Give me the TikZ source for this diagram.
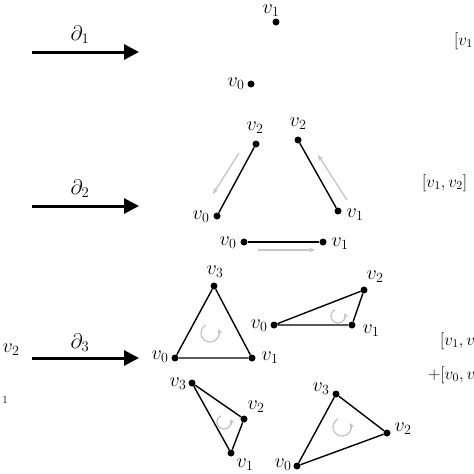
\documentclass[tikz,border=0pt]{standalone}
\usepackage{fix-cm}
\usetikzlibrary{arrows.meta}
\begin{document}
\begin{tikzpicture}[x=1pt,y=-1pt,
  vtx/.style={circle,fill=black,inner sep=0pt,minimum size=7pt},
  lbl/.style={inner sep=0pt,font=\fontsize{20}{24}\selectfont},
  dlbl/.style={inner sep=0pt,font=\fontsize{21}{24}\selectfont},
  rlbl/.style={inner sep=0pt,anchor=west,font=\fontsize{17}{20}\selectfont},
  bigarrow/.style={line width=3pt,-{Triangle[length=15pt,width=15pt]}},
  edge/.style={line width=1.4pt},
  orient/.style={gray!45,line width=1.3pt,-{Stealth[length=6pt,width=5pt]}},
  spin/.style={gray!45,line width=1.3pt,-{Stealth[length=5pt,width=5pt]}}]
\useasboundingbox (0,0) rectangle (474,474);
% boundary arrows
\coordinate (a1s) at (32,52); \coordinate (a1e) at (139,52);
\coordinate (a2s) at (32,206); \coordinate (a2e) at (139,206);
\coordinate (a3s) at (32,358); \coordinate (a3e) at (139,358);
\draw[bigarrow] (a1s) -- (a1e);
\draw[bigarrow] (a2s) -- (a2e);
\draw[bigarrow] (a3s) -- (a3e);
\node[dlbl] (d1) at (80,35) {$\partial_1$};
\node[dlbl] (d2) at (80,189) {$\partial_2$};
\node[dlbl] (d3) at (80,343) {$\partial_3$};
% dimension 1
\node[vtx] (p1) at (276,22) {};
\node[lbl] at (271,11) {$v_1$};
\node[vtx] (p0) at (251,84) {};
\node[lbl] at (236,84) {$v_0$};
% dimension 2: left edge
\node[vtx] (e1a) at (256,144) {};
\node[vtx] (e1b) at (217,216) {};
\draw[edge] (e1a) -- (e1b);
\node[lbl] at (255,128) {$v_2$};
\node[lbl] at (201,217) {$v_0$};
\coordinate (g1s) at (239,153); \coordinate (g1e) at (213,194);
\draw[orient] (g1s) -- (g1e);
% right edge
\node[vtx] (e2a) at (298,140) {};
\node[vtx] (e2b) at (338,211) {};
\draw[edge] (e2a) -- (e2b);
\node[lbl] at (298,124) {$v_2$};
\node[lbl] at (355,215) {$v_1$};
\coordinate (g2s) at (347,200); \coordinate (g2e) at (318,155);
\draw[orient] (g2s) -- (g2e);
% bottom edge
\node[vtx] (e3a) at (244,242) {};
\node[vtx] (e3b) at (323,242) {};
\draw[edge] (e3a) -- (e3b);
\node[lbl] at (228,243) {$v_0$};
\node[lbl] at (340,244) {$v_1$};
\coordinate (g3s) at (258,250); \coordinate (g3e) at (315,250);
\draw[orient] (g3s) -- (g3e);
% dimension 3: triangle A
\node[vtx] (A3) at (214,286) {};
\node[vtx] (A0) at (175,358) {};
\node[vtx] (A1) at (252,358) {};
\draw[edge] (A3) -- (A0) -- (A1) -- (A3);
\node[lbl] at (215,272) {$v_3$};
\node[lbl] at (160,357) {$v_0$};
\node[lbl] at (270,358) {$v_1$};
\coordinate (cA) at (210,333);
\draw[spin] ([shift={(-117:9)}]cA) arc[start angle=-117,end angle=-385,radius=9];
% triangle B
\node[vtx] (B2) at (364,290) {};
\node[vtx] (B0) at (274,325) {};
\node[vtx] (B1) at (352,325) {};
\draw[edge] (B0) -- (B2) -- (B1) -- (B0);
\node[lbl] at (375,277) {$v_2$};
\node[lbl] at (259,326) {$v_0$};
\node[lbl] at (371,331) {$v_1$};
\coordinate (cB) at (338,316);
\draw[spin] ([shift={(-117:7)}]cB) arc[start angle=-117,end angle=-385,radius=7];
% triangle C
\node[vtx] (C3) at (192,383) {};
\node[vtx] (C2) at (244,419) {};
\node[vtx] (C1) at (231,453) {};
\draw[edge] (C3) -- (C2) -- (C1) -- (C3);
\node[lbl] at (178,384) {$v_3$};
\node[lbl] at (256,407) {$v_2$};
\node[lbl] at (245,465) {$v_1$};
\coordinate (cC) at (224,422);
\draw[spin] ([shift={(-117:7)}]cC) arc[start angle=-117,end angle=-385,radius=7];
% triangle D
\node[vtx] (D3) at (336,394) {};
\node[vtx] (D2) at (387,433) {};
\node[vtx] (D0) at (297,466) {};
\draw[edge] (D3) -- (D2) -- (D0) -- (D3);
\node[lbl] at (321,389) {$v_3$};
\node[lbl] at (403,429) {$v_2$};
\node[lbl] at (283,465) {$v_0$};
\coordinate (cD) at (342,427);
\draw[spin] ([shift={(-117:9)}]cD) arc[start angle=-117,end angle=-385,radius=9];
% cut-off texts at the edges
\node[rlbl] at (454,41) {$[v_1$};
\node[rlbl] at (422,183) {$[v_1, v_2]$};
\node[rlbl] at (440,341) {$[v_1, v$};
\node[rlbl] at (428,375) {$+[v_0, v$};
\node[inner sep=0pt,font=\fontsize{20}{24}\selectfont] at (11,350) {$v_2$};
\node[inner sep=0pt,font=\fontsize{11}{13}\selectfont] at (5,400) {1};
\end{tikzpicture}
\end{document}
